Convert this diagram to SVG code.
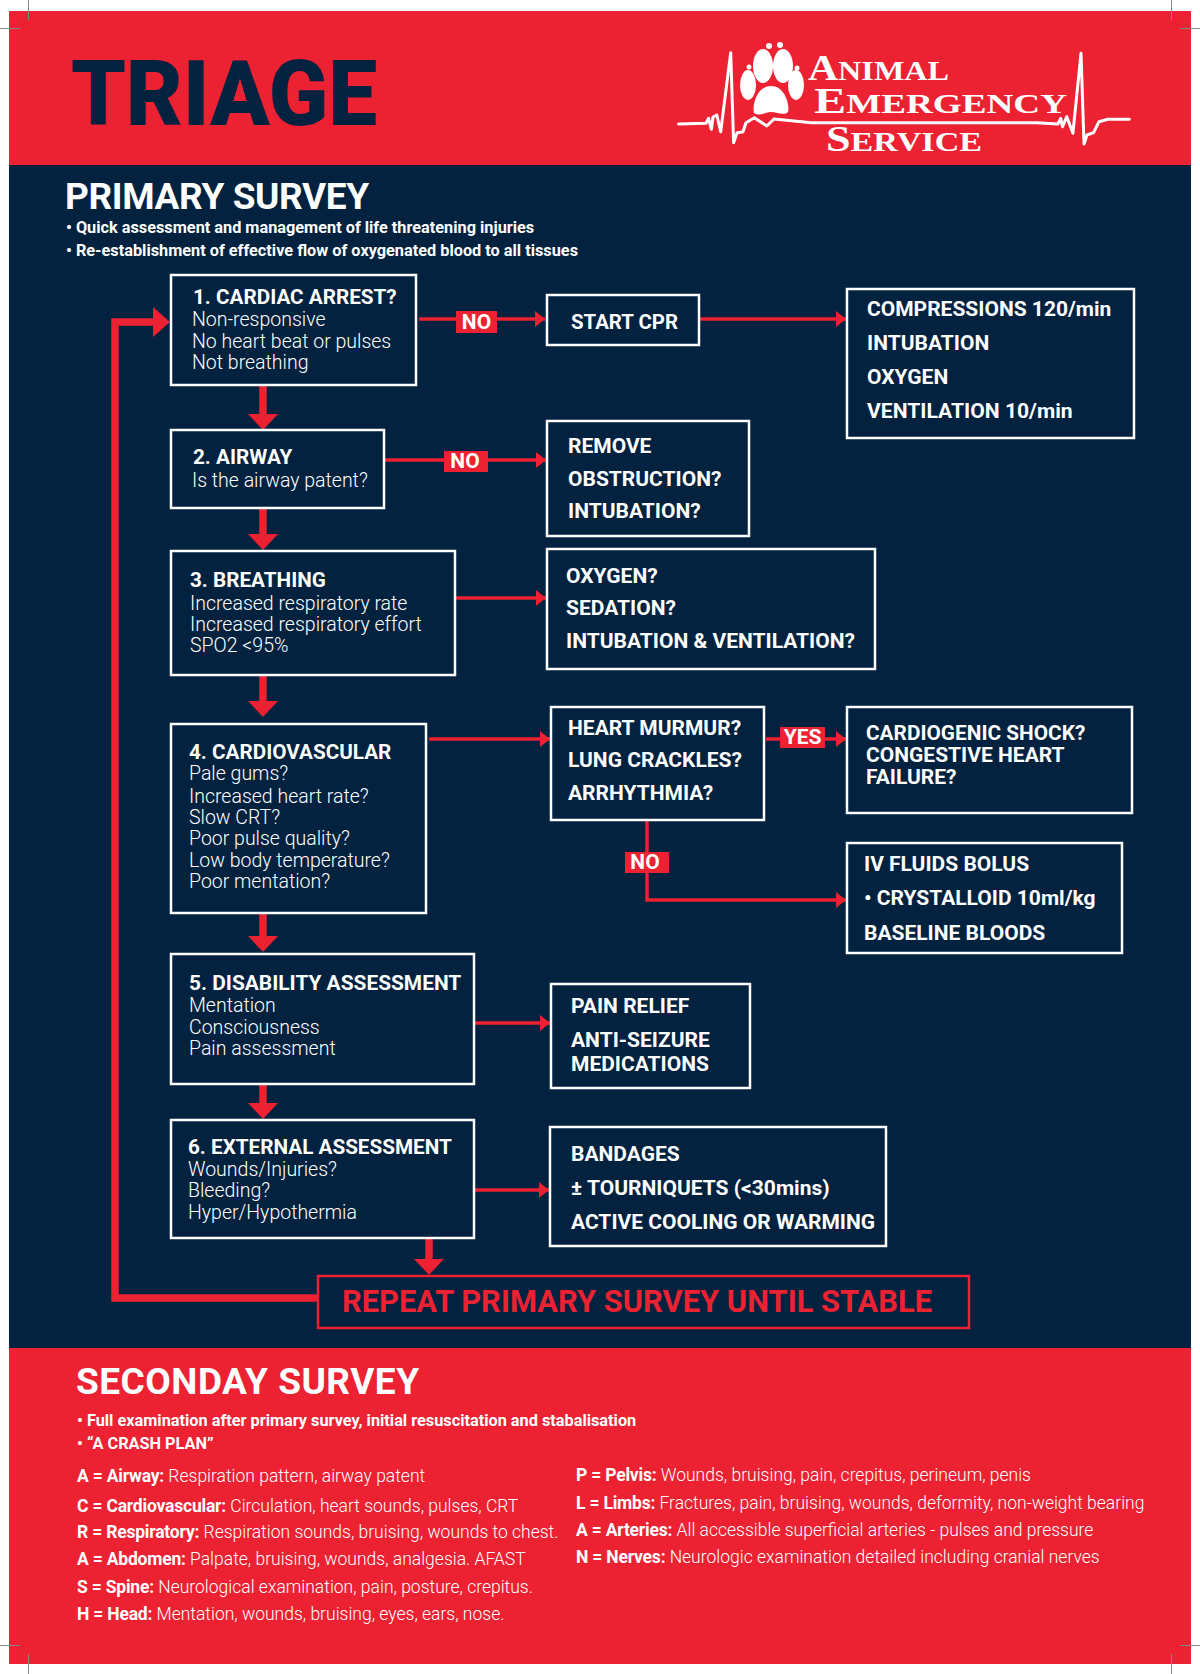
<svg xmlns="http://www.w3.org/2000/svg" width="1200" height="1674" viewBox="0 0 1200 1674">
<style>
text{font-family:Roboto,"Liberation Sans",sans-serif;fill:#fff}
.b{fill:#02223f;stroke:#fff;stroke-width:2.5}
.t{font-size:20.700px;font-weight:700}
.l{font-size:19.500px;font-weight:300}
.a{font-size:21px;font-weight:700}
.s{font-size:16.300px;font-weight:700}
.k{font-size:17.500px;font-weight:300}
.k tspan{font-weight:700;letter-spacing:-.2px}
.h{font-size:37px;font-weight:700}
.thin{fill:none;stroke:#ec2132;stroke-width:3.5}
.thick{fill:none;stroke:#ec2132;stroke-width:7.5}
.tag{fill:#ec2132}
.tagt{font-size:21px;font-weight:700;text-anchor:middle}
.crop{stroke:#888;stroke-width:1;fill:none}
.logo{font-family:"Liberation Serif",serif;font-weight:700;font-size:27px}
.logo tspan{font-size:35px}
</style>
<defs>
<marker id="ah" markerUnits="userSpaceOnUse" markerWidth="10" markerHeight="16" refX="10" refY="8" orient="auto"><path d="M0 0L10 8L0 16Z" fill="#ec2132"/></marker>
<marker id="ahb" markerUnits="userSpaceOnUse" markerWidth="16" markerHeight="30" refX="1" refY="15" orient="auto"><path d="M0 0L16 15L0 30Z" fill="#ec2132"/></marker>
</defs>
<rect width="1200" height="1674" fill="#fff"/>
<rect id="band-top" x="9" y="11" width="1182" height="154" fill="#ec2132"/>
<rect id="band-mid" x="9" y="165" width="1182" height="1183" fill="#02223f"/>
<rect id="band-bottom" x="9" y="1348" width="1182" height="316" fill="#ec2132"/>
<path class="crop" d="M28.500 0V20M0 28.500H20M1171.500 0V20M1180 28.500H1200M28.500 1674V1654M0 1645.500H20M1171.500 1674V1654M1180 1645.500H1200"/>
<text x="71" y="125" font-size="90" font-weight="900" style="fill:#02223f" textLength="306" lengthAdjust="spacingAndGlyphs">TRIAGE</text>
<g id="logo">
<polyline fill="none" stroke="#fff" stroke-width="3" stroke-linejoin="round" stroke-linecap="round" points="678.600,124 706,123.300 708.600,118.300 711.400,129.300 713,117 716.800,115 720.700,131.700 730.700,52.700 733.600,142.700 737,133 743,131.700 746,122.700 754.300,117.700 766.800,126 774,119 811.400,122.700 1036.400,122.700 1057.900,124 1060.700,118.300 1062.500,126.700 1066.800,116.700 1072.900,133.300 1081,53.300 1084,144 1087,135 1093.600,132.700 1099,121.700 1107.900,119.300 1129.300,119.300"/>
<g fill="#fff">
<ellipse cx="748" cy="85" rx="8" ry="15"/><ellipse cx="763" cy="66" rx="10" ry="17"/><ellipse cx="783" cy="66" rx="10" ry="17"/><ellipse cx="796" cy="85" rx="8" ry="15"/>
<circle cx="769" cy="46" r="3"/><circle cx="780" cy="45" r="3"/><circle cx="749" cy="67" r="2.500"/><circle cx="797" cy="68" r="2.500"/>
<path d="M754 113C752 105 757 86 771 86C785 86 790 105 788 112C784 116 777 112 771 112C765 112 760 117 754 113Z"/>
</g>
<text class="logo" x="808" y="80" textLength="141" lengthAdjust="spacingAndGlyphs"><tspan>A</tspan>NIMAL</text>
<text class="logo" x="814" y="113" textLength="253" lengthAdjust="spacingAndGlyphs"><tspan>E</tspan>MERGENCY</text>
<text class="logo" x="826" y="151" textLength="156" lengthAdjust="spacingAndGlyphs"><tspan>S</tspan>ERVICE</text>
</g>
<text class="h" x="65" y="209" letter-spacing="-.4">PRIMARY SURVEY</text>
<text class="s" x="66" y="233">• Quick assessment and management of life threatening injuries</text>
<text class="s" x="66" y="256">• Re-establishment of effective flow of oxygenated blood to all tissues</text>
<g id="connectors">
<polyline class="thick" points="318,1298 115,1298 115,322 155,322"/>
<path class="tag" d="M153 307L170 322L153 337Z"/>
<line class="thick" x1="263" y1="386" x2="263" y2="415" marker-end="url(#ahb)"/>
<line class="thick" x1="263" y1="509" x2="263" y2="535" marker-end="url(#ahb)"/>
<line class="thick" x1="263" y1="676" x2="263" y2="702" marker-end="url(#ahb)"/>
<line class="thick" x1="263" y1="914" x2="263" y2="937" marker-end="url(#ahb)"/>
<line class="thick" x1="263" y1="1085" x2="263" y2="1104" marker-end="url(#ahb)"/>
<line class="thick" x1="429" y1="1239" x2="429" y2="1260" marker-end="url(#ahb)"/>
<line class="thin" x1="419" y1="319" x2="545" y2="319" marker-end="url(#ah)"/>
<line class="thin" x1="699" y1="319" x2="846" y2="319" marker-end="url(#ah)"/>
<line class="thin" x1="385" y1="460" x2="546" y2="460" marker-end="url(#ah)"/>
<line class="thin" x1="455" y1="598" x2="546" y2="598" marker-end="url(#ah)"/>
<line class="thin" x1="429" y1="739" x2="550" y2="739" marker-end="url(#ah)"/>
<line class="thin" x1="766" y1="739" x2="846" y2="739" marker-end="url(#ah)"/>
<polyline class="thin" points="647,820 647,900 846,900" marker-end="url(#ah)"/>
<line class="thin" x1="474" y1="1023" x2="550" y2="1023" marker-end="url(#ah)"/>
<line class="thin" x1="474" y1="1190" x2="549" y2="1190" marker-end="url(#ah)"/>
<rect class="tag" x="456" y="311" width="41" height="22"/><text class="tagt" x="476.500" y="329">NO</text>
<rect class="tag" x="444" y="451" width="44" height="21"/><text class="tagt" x="465" y="468">NO</text>
<rect class="tag" x="780" y="727" width="45" height="21"/><text class="tagt" x="802.500" y="744">YES</text>
<rect class="tag" x="625" y="852" width="44" height="21"/><text class="tagt" x="645" y="869">NO</text>
</g>
<g id="n1"><rect class="b" x="171" y="275" width="245" height="110"/><text class="t" x="193" y="304">1. CARDIAC ARREST?</text><text class="l" x="192" y="326">Non-responsive</text><text class="l" x="192" y="348">No heart beat or pulses</text><text class="l" x="192" y="369">Not breathing</text></g>
<g id="cpr"><rect class="b" x="547" y="295" width="152" height="50"/><text class="a" x="571" y="329" style="font-size:20.400px">START CPR</text></g>
<g id="comp"><rect class="b" x="847" y="289" width="287" height="149"/><text class="a" x="867" y="316">COMPRESSIONS 120/min</text><text class="a" x="867" y="350">INTUBATION</text><text class="a" x="867" y="384">OXYGEN</text><text class="a" x="867" y="418" style="font-size:21.100px">VENTILATION 10/min</text></g>
<g id="n2"><rect class="b" x="171" y="430" width="213" height="78"/><text class="t" x="193" y="464">2. AIRWAY</text><text class="l" x="192" y="487">Is the airway patent?</text></g>
<g id="remove"><rect class="b" x="547" y="421" width="202" height="115"/><text class="a" x="568" y="453">REMOVE</text><text class="a" x="568" y="486">OBSTRUCTION?</text><text class="a" x="568" y="518">INTUBATION?</text></g>
<g id="n3"><rect class="b" x="171" y="551" width="284" height="124"/><text class="t" x="190" y="587">3. BREATHING</text><text class="l" x="190" y="610">Increased respiratory rate</text><text class="l" x="190" y="631">Increased respiratory effort</text><text class="l" x="190" y="652">SPO2 &lt;95%</text></g>
<g id="oxy"><rect class="b" x="547" y="549" width="328" height="120"/><text class="a" x="566" y="583">OXYGEN?</text><text class="a" x="566" y="615">SEDATION?</text><text class="a" x="566" y="648">INTUBATION &amp; VENTILATION?</text></g>
<g id="n4"><rect class="b" x="171" y="724" width="255" height="189"/><text class="t" x="189" y="759">4. CARDIOVASCULAR</text><text class="l" x="189" y="780">Pale gums?</text><text class="l" x="189" y="803">Increased heart rate?</text><text class="l" x="189" y="824">Slow CRT?</text><text class="l" x="189" y="845">Poor pulse quality?</text><text class="l" x="189" y="867">Low body temperature?</text><text class="l" x="189" y="888">Poor mentation?</text></g>
<g id="heart"><rect class="b" x="551" y="707" width="213" height="113"/><text class="a" x="568" y="735">HEART MURMUR?</text><text class="a" x="568" y="767">LUNG CRACKLES?</text><text class="a" x="568" y="800">ARRHYTHMIA?</text></g>
<g id="cardio"><rect class="b" x="847" y="707" width="285" height="106"/><text class="a" x="866" y="740" style="font-size:20.800px">CARDIOGENIC SHOCK?</text><text class="a" x="866" y="762">CONGESTIVE HEART</text><text class="a" x="866" y="784">FAILURE?</text></g>
<g id="iv"><rect class="b" x="847" y="843" width="275" height="110"/><text class="a" x="864" y="871">IV FLUIDS BOLUS</text><text class="a" x="864" y="905">• CRYSTALLOID 10ml/kg</text><text class="a" x="864" y="940">BASELINE BLOODS</text></g>
<g id="n5"><rect class="b" x="171" y="954" width="303" height="130"/><text class="t" x="189" y="990" style="font-size:20.900px">5. DISABILITY ASSESSMENT</text><text class="l" x="189" y="1012">Mentation</text><text class="l" x="189" y="1034">Consciousness</text><text class="l" x="189" y="1055">Pain assessment</text></g>
<g id="pain"><rect class="b" x="551" y="984" width="199" height="104"/><text class="a" x="571" y="1013">PAIN RELIEF</text><text class="a" x="571" y="1047">ANTI-SEIZURE</text><text class="a" x="571" y="1071">MEDICATIONS</text></g>
<g id="n6"><rect class="b" x="171" y="1120" width="303" height="118"/><text class="t" x="188" y="1154">6. EXTERNAL ASSESSMENT</text><text class="l" x="188" y="1176">Wounds/Injuries?</text><text class="l" x="188" y="1197">Bleeding?</text><text class="l" x="188" y="1219">Hyper/Hypothermia</text></g>
<g id="band"><rect class="b" x="550" y="1127" width="336" height="119"/><text class="a" x="571" y="1161">BANDAGES</text><text class="a" x="571" y="1195">± TOURNIQUETS (&lt;30mins)</text><text class="a" x="571" y="1229">ACTIVE COOLING OR WARMING</text></g>
<g id="repeat"><rect x="318" y="1276" width="651" height="52" fill="#02223f" stroke="#ec2132" stroke-width="2.500"/><text x="342" y="1312" font-size="32" font-weight="700" style="fill:#ec2132" textLength="590" lengthAdjust="spacingAndGlyphs">REPEAT PRIMARY SURVEY UNTIL STABLE</text></g>
<text class="h" x="76" y="1394" letter-spacing=".5">SECONDAY SURVEY</text>
<text class="s" x="77" y="1426">• Full examination after primary survey, initial resuscitation and stabalisation</text>
<text class="s" x="77" y="1449">• “A CRASH PLAN”</text>
<text class="k" x="77" y="1482"><tspan>A = Airway:</tspan> Respiration pattern, airway patent</text>
<text class="k" x="77" y="1512"><tspan>C = Cardiovascular:</tspan> Circulation, heart sounds, pulses, CRT</text>
<text class="k" x="77" y="1538"><tspan>R = Respiratory:</tspan> Respiration sounds, bruising, wounds to chest.</text>
<text class="k" x="77" y="1565"><tspan>A = Abdomen:</tspan> Palpate, bruising, wounds, analgesia. AFAST</text>
<text class="k" x="77" y="1593"><tspan>S = Spine:</tspan> Neurological examination, pain, posture, crepitus.</text>
<text class="k" x="77" y="1620"><tspan>H = Head:</tspan> Mentation, wounds, bruising, eyes, ears, nose.</text>
<text class="k" x="576" y="1481"><tspan>P = Pelvis:</tspan> Wounds, bruising, pain, crepitus, perineum, penis</text>
<text class="k" x="576" y="1509"><tspan>L = Limbs:</tspan> Fractures, pain, bruising, wounds, deformity, non-weight bearing</text>
<text class="k" x="576" y="1536"><tspan>A = Arteries:</tspan> All accessible superficial arteries - pulses and pressure</text>
<text class="k" x="576" y="1563"><tspan>N = Nerves:</tspan> Neurologic examination detailed including cranial nerves</text>
</svg>
